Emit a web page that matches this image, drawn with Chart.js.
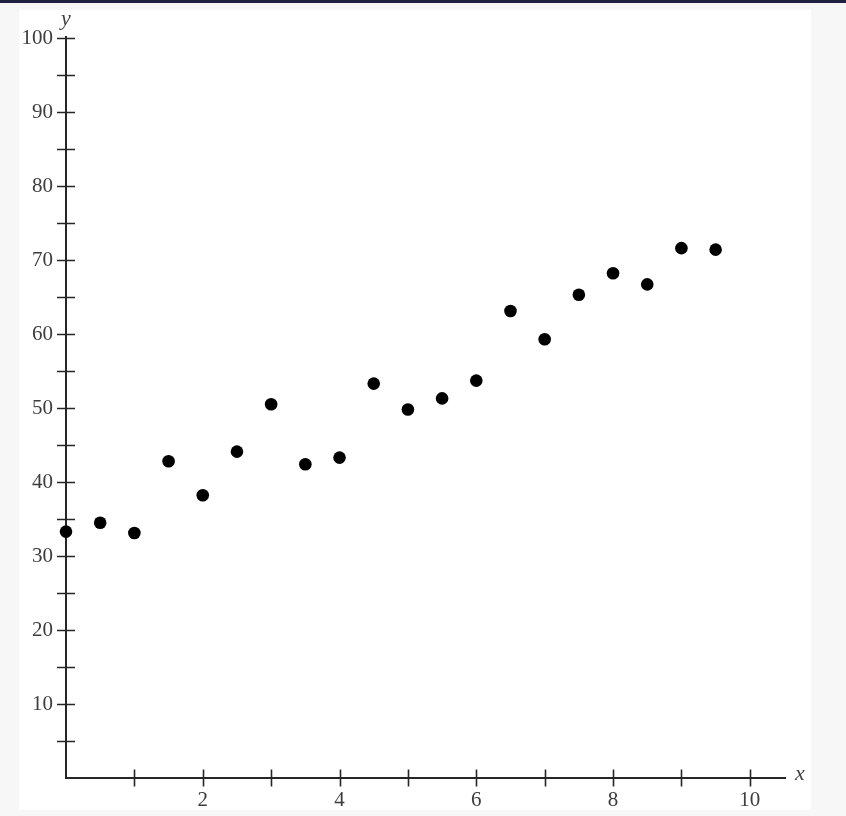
<!DOCTYPE html>
<html>
<head>
<meta charset="utf-8">
<script src="https://cdn.jsdelivr.net/npm/chart.js@4.4.0/dist/chart.umd.min.js"></script>
<style>
html,body{margin:0;padding:0;background:#f7f7f7;}
#wrap{width:846px;height:816px;position:relative;}
canvas{display:block;}
</style>
</head>
<body>
<div id="wrap"><canvas id="c" width="846" height="816"></canvas></div>
<script>
// Data
const xValues = [0, 0.5, 1, 1.5, 2, 2.5, 3, 3.5, 4, 4.5, 5, 5.5, 6, 6.5, 7, 7.5, 8, 8.5, 9, 9.5];
const yValues = [33.3, 34.5, 33.1, 42.8, 38.2, 44.1, 50.5, 42.4, 43.3, 53.3, 49.8, 51.3, 53.7, 63.1, 59.3, 65.3, 68.2, 66.7, 71.6, 71.4];
const xTickLabels = [2, 4, 6, 8, 10];
const yTickLabels = [10, 20, 30, 40, 50, 60, 70, 80, 90, 100];
const xAxisTitle = 'x';
const yAxisTitle = 'y';

const points = xValues.map((x, i) => ({x: x, y: yValues[i]}));
const FONT = '"Liberation Serif", "DejaVu Serif", serif';
const INK = '#262626';

const framePlugin = {
  id: 'frame',
  beforeDraw(chart) {
    const ctx = chart.ctx;
    ctx.save();
    ctx.fillStyle = '#f7f7f7';
    ctx.fillRect(0, 0, 846, 816);
    ctx.fillStyle = '#1f2040';
    ctx.fillRect(0, 0, 846, 3);
    ctx.fillStyle = '#ffffff';
    ctx.fillRect(19, 10, 792, 800);
    ctx.restore();
  },
  beforeDatasetsDraw(chart) {
    const ctx = chart.ctx;
    const xs = chart.scales.x, ys = chart.scales.y;
    const x0 = xs.getPixelForValue(0), y0 = ys.getPixelForValue(0);
    ctx.save();
    ctx.strokeStyle = INK;
    ctx.lineWidth = 2;
    ctx.beginPath();
    ctx.moveTo(x0, ys.getPixelForValue(ys.max) - 2);
    ctx.lineTo(x0, y0);
    ctx.lineTo(xs.getPixelForValue(xs.max) + 2, y0);
    ctx.stroke();
    ctx.lineWidth = 1.6;
    ctx.beginPath();
    ys.ticks.forEach(t => {
      if (t.value <= 0) return;
      const py = Math.round(ys.getPixelForValue(t.value)) + 0.5;
      ctx.moveTo(x0 - 9, py); ctx.lineTo(x0 + 9, py);
    });
    xs.ticks.forEach(t => {
      if (t.value <= 0 || t.value > 10) return;
      const px = Math.round(xs.getPixelForValue(t.value)) + 0.5;
      ctx.moveTo(px, y0 - 8.5); ctx.lineTo(px, y0 + 8.5);
    });
    ctx.stroke();
    ctx.fillStyle = '#444';
    ctx.font = 'italic 22px ' + FONT;
    ctx.textAlign = 'center';
    ctx.textBaseline = 'alphabetic';
    ctx.fillText(yAxisTitle, x0, 25);
    ctx.textAlign = 'left';
    ctx.fillText(xAxisTitle, xs.getPixelForValue(xs.max) + 11, y0 + 2);
    ctx.restore();
  }
};

new Chart(document.getElementById('c'), {
  type: 'scatter',
  data: {
    datasets: [{
      data: points,
      backgroundColor: '#000',
      borderColor: '#000',
      pointRadius: 6.3,
      pointHoverRadius: 6.3,
      borderWidth: 0,
      clip: false
    }]
  },
  plugins: [framePlugin],
  options: {
    responsive: false,
    animation: false,
    events: [],
    layout: {padding: {left: 0, top: 38, right: 62, bottom: 0}},
    plugins: {legend: {display: false}, tooltip: {enabled: false}},
    scales: {
      x: {
        type: 'linear', min: 0, max: 10.5,
        border: {display: false},
        grid: {display: false, drawTicks: false},
        afterFit(s) { s.height = 38; },
        ticks: {
          stepSize: 1, includeBounds: false, autoSkip: false, maxRotation: 0,
          padding: 10, color: '#3d3d3d', font: {family: FONT, size: 21},
          callback: v => xTickLabels.includes(v) ? String(v) : ''
        }
      },
      y: {
        type: 'linear', min: 0, max: 100,
        border: {display: false},
        grid: {display: false, drawTicks: false},
        afterFit(s) { s.width = 66; },
        ticks: {
          stepSize: 5, includeBounds: false, autoSkip: false,
          padding: 13, color: '#3d3d3d', font: {family: FONT, size: 21},
          callback: v => yTickLabels.includes(v) ? String(v) : ''
        }
      }
    }
  }
});
</script>
</body>
</html>
